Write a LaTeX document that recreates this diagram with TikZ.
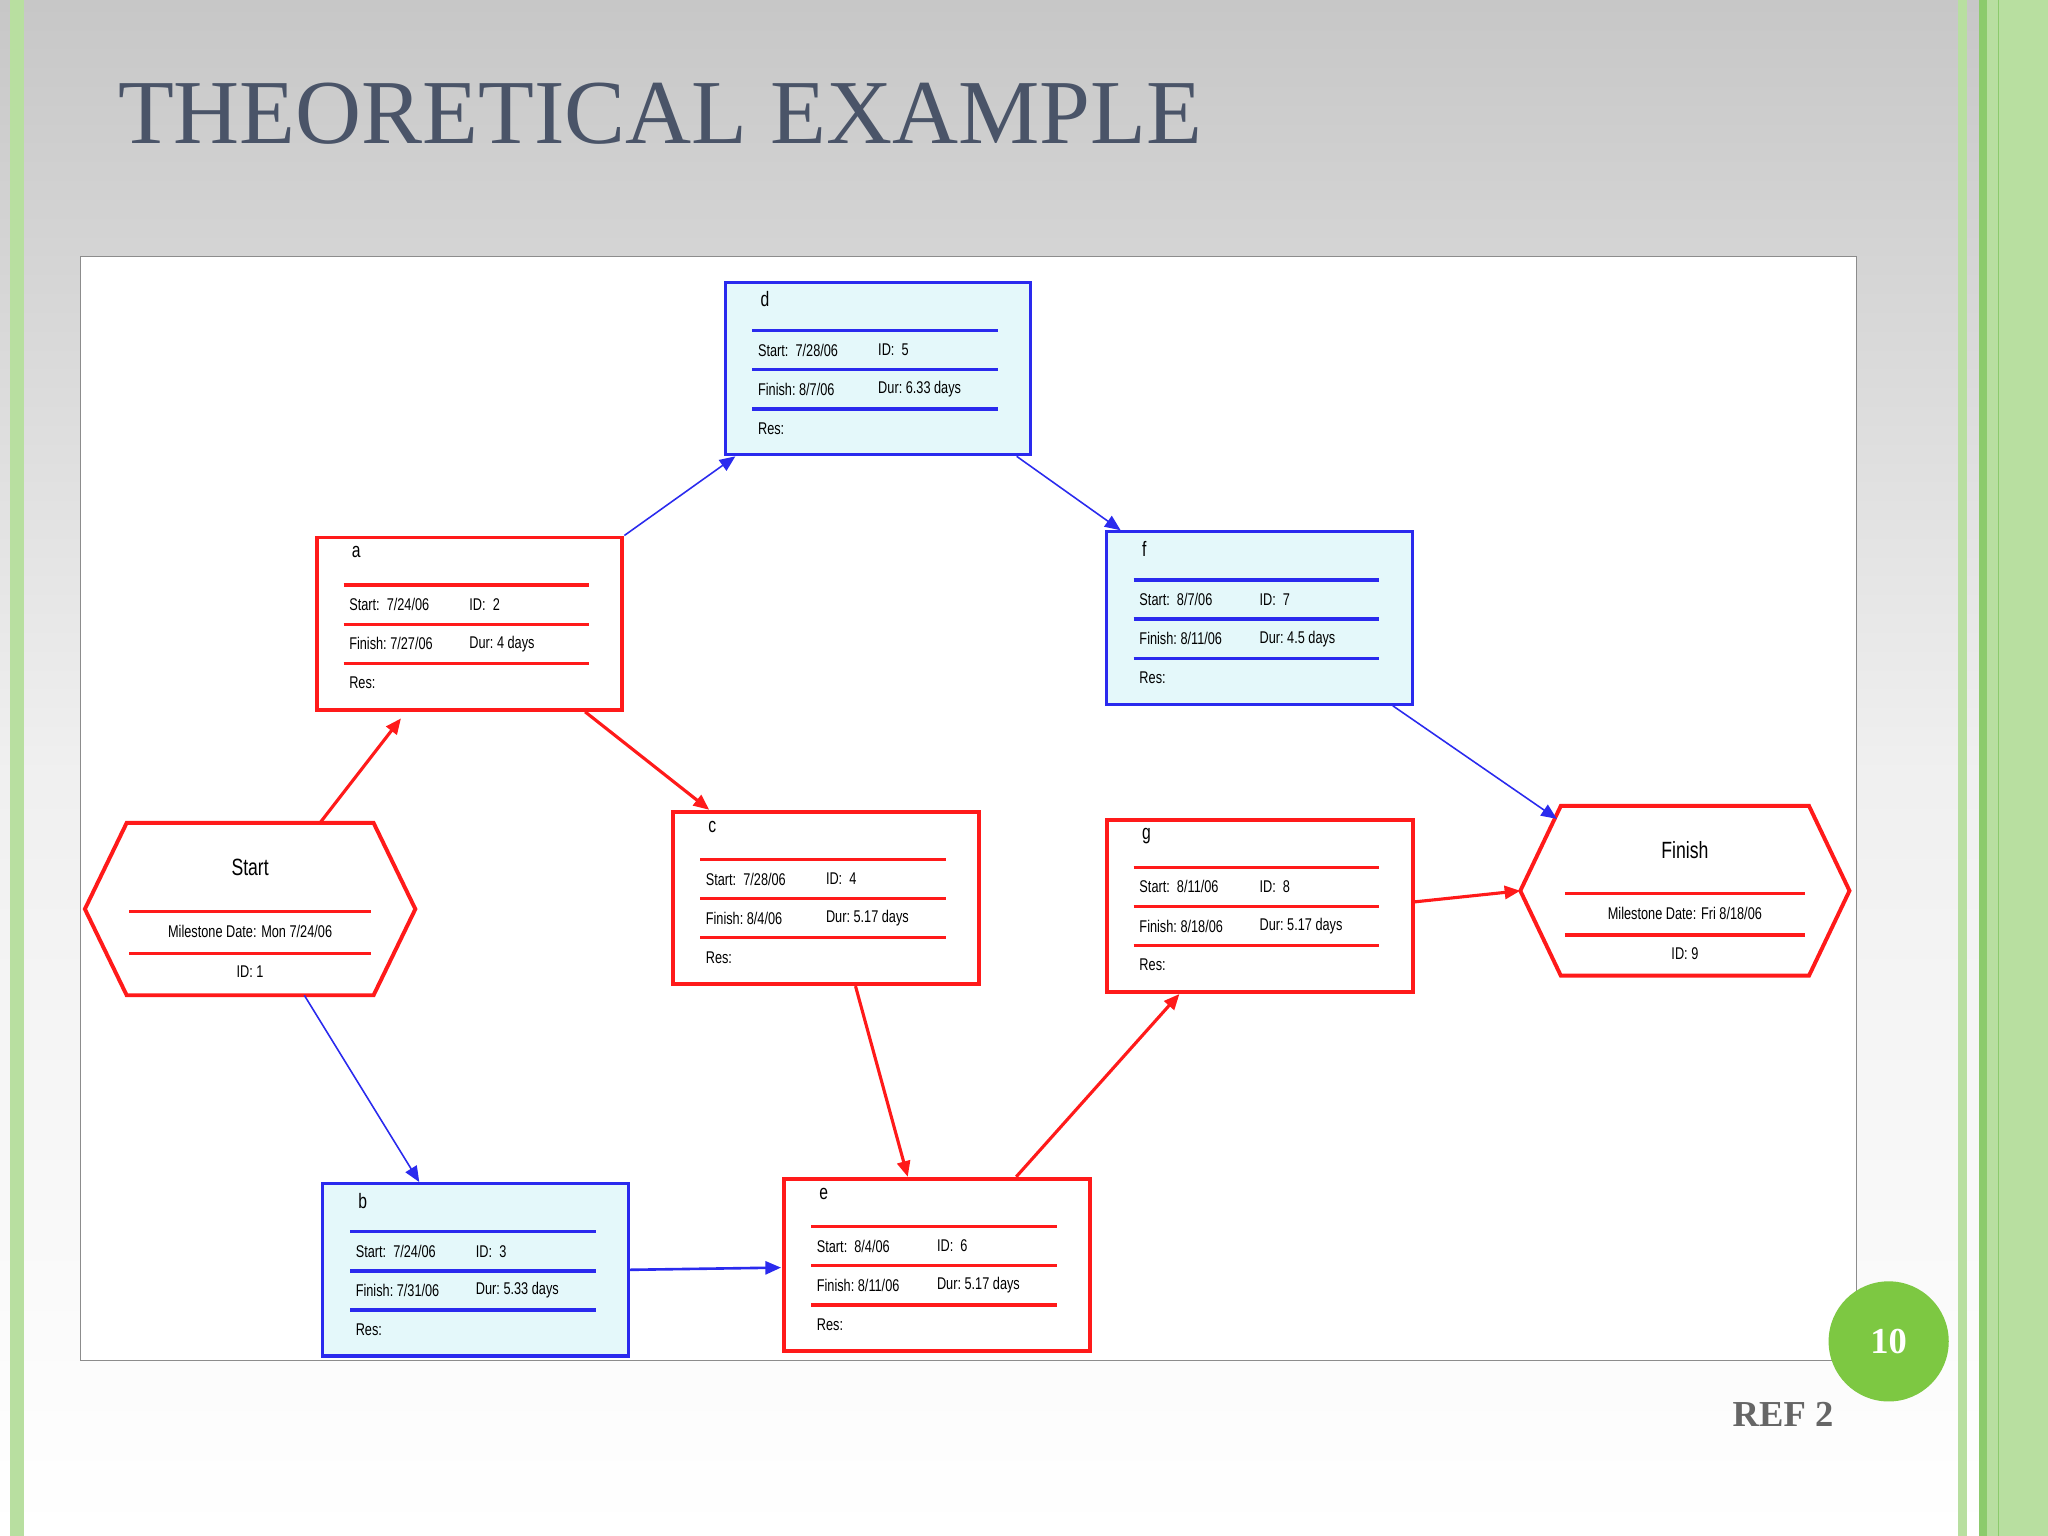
\documentclass[tikz,border=0pt]{standalone}
\usepackage{fontspec}
\setmainfont{Liberation Serif}
\newfontfamily\boxfont[FakeStretch=0.75]{Liberation Sans}
\usetikzlibrary{calc,arrows.meta}
\definecolor{titlecol}{HTML}{4A5468}
\definecolor{lgreen}{HTML}{B8DFA0}
\definecolor{mgreen}{HTML}{8CCB6C}
\definecolor{cgreen}{HTML}{7DC842}
\definecolor{bfill}{HTML}{E4F8FA}
\definecolor{redline}{HTML}{FF1A1A}
\definecolor{blueline}{HTML}{2A2AEE}
\tikzset{
 x=0.5pt,y=-0.5pt,
 redbox/.style={draw=redline,line width=1.5pt,fill=white},
 bluebox/.style={draw=blueline,line width=1.2pt,fill=bfill},
 lab/.style={inner sep=0pt,font=\boxfont\fontsize{6.5}{7}\selectfont},
 redarrow/.style={draw=redline,line width=1.2pt,-{Triangle[length=6pt,width=5pt]}},
 bluearrow/.style={draw=blueline,line width=0.6pt,-{Triangle[length=6pt,width=5pt]}},
}
\newcommand\taskbox[9]{%
 \node[#4box,minimum width=117pt,minimum height=66pt,inner sep=0pt,anchor=north west] (#1) at (#2,#3) {};
 \node[lab,anchor=north west,font=\boxfont\fontsize{8}{9}\selectfont] (#1t) at (#2+28,#3+8) {#5};
 \foreach \yy in {38,68,98} \draw[draw=#4line,line width=1.3pt] (#2+22,#3+\yy) -- (#2+210,#3+\yy);
 \node[lab,anchor=west] (#1s) at (#2+26,#3+53) {Start:\ \ #6};
 \node[lab,anchor=west] (#1i) at (#2+118,#3+53) {ID:\ \ #7};
 \node[lab,anchor=west] (#1f) at (#2+26,#3+83) {Finish:\ #8};
 \node[lab,anchor=west] (#1d) at (#2+118,#3+83) {Dur:\ #9};
 \node[lab,anchor=west] (#1r) at (#2+26,#3+113) {Res:};
}
\newcommand\hexnode[9]{% name x1 y1 x2 y2 title line1 line2 inset
 \coordinate (#1nw) at (#2,#3); \coordinate (#1se) at (#4,#5);
 \draw[redbox] (#2,{(#3+#5)/2}) -- (#2+#9,#3) -- (#4-#9,#3) -- (#4,{(#3+#5)/2}) -- (#4-#9,#5) -- (#2+#9,#5) -- cycle;
 \node[lab,font=\boxfont\fontsize{9}{10}\selectfont] (#1t) at ({(#2+#4)/2},#3+34) {#6};
 \draw[redline,line width=1.3pt] (#2+34,{(#3+#5)/2+2}) -- (#4-34,{(#3+#5)/2+2});
 \draw[redline,line width=1.3pt] (#2+34,{(#3+#5)/2+34}) -- (#4-34,{(#3+#5)/2+34});
 \node[lab] (#1m) at ({(#2+#4)/2},{(#3+#5)/2+17}) {#7};
 \node[lab] (#1i) at ({(#2+#4)/2},{(#3+#5)/2+48}) {#8};
}
\begin{document}
\begin{tikzpicture}
\useasboundingbox (0,0) rectangle (1568,1176);
\shade[top color=black!22,bottom color=white,middle color=black!6] (0,0) rectangle (1568,1176);
\fill[lgreen] (8,0) rectangle (18,1176);
\fill[lgreen] (1499,0) rectangle (1506,1176);
\fill[mgreen] (1515,0) rectangle (1521,1176);
\fill[lgreen] (1521,0) rectangle (1568,1176);
\draw[mgreen,line width=0.6pt] (1530,0) -- (1530,1176);
\node[anchor=base west,inner sep=0pt,text=titlecol,font=\fontsize{35}{40}\selectfont] (title) at (90,110) {THEORETICAL EXAMPLE};
\node[draw=black!45,line width=0.4pt,fill=white,anchor=north west,minimum width=680pt,minimum height=422.5pt,inner sep=0pt] (panel) at (61,196) {};

\taskbox{d}{554}{215}{blue}{d}{7/28/06}{5}{8/7/06}{6.33 days}
\taskbox{a}{241}{410}{red}{a}{7/24/06}{2}{7/27/06}{4 days}
\taskbox{f}{846}{406}{blue}{f}{8/7/06}{7}{8/11/06}{4.5 days}
\taskbox{c}{514}{620}{red}{c}{7/28/06}{4}{8/4/06}{5.17 days}
\taskbox{g}{846}{626}{red}{g}{8/11/06}{8}{8/18/06}{5.17 days}
\taskbox{b}{246}{905}{blue}{b}{7/24/06}{3}{7/31/06}{5.33 days}
\taskbox{e}{599}{901}{red}{e}{8/4/06}{6}{8/11/06}{5.17 days}
\hexnode{st}{65}{630}{318}{762}{Start}{Milestone Date: Mon 7/24/06}{ID: 1}{32}
\hexnode{fi}{1164}{617}{1416}{747}{Finish}{Milestone Date: Fri 8/18/06}{ID: 9}{31}

\path[bluearrow] (a.north east) -- ($(d.south west)+(9,0)$);
\path[bluearrow] ($(d.south east)+(-12,0)$) -- ($(f.north west)+(12,0)$);
\path[bluearrow] ($(f.south east)+(-16,0)$) -- ($(finw)+(28,10)$);
\path[redarrow] ($(stnw)+(180,0)$) -- ($(a.south west)+(66,5)$);
\path[redarrow] ($(a.south east)+(-30,0)$) -- ($(c.north west)+(29,0)$);
\path[bluearrow] ($(stse)+(-85,0)$) -- ($(b.north west)+(75,0)$);
\path[redarrow] ($(c.south west)+(141,0)$) -- ($(e.north west)+(96,0)$);
\path[bluearrow,line width=1pt] (b.east) -- ($(e.west)+(-1,2)$);
\path[redarrow] ($(e.north west)+(179,0)$) -- ($(g.south west)+(57,0)$);
\path[redarrow] ($(g.east)+(0,-3)$) -- ($(finw)+(0,65)$);

\node[circle,fill=cgreen,minimum size=46pt,inner sep=0pt,text=white,font=\bfseries\fontsize{14}{16}\selectfont] (pg) at (1446,1027) {10};
\node[anchor=base east,inner sep=0pt,text=black!60,font=\bfseries\fontsize{14}{16}\selectfont] (ref) at (1404,1092) {REF 2};
\end{tikzpicture}
\end{document}
